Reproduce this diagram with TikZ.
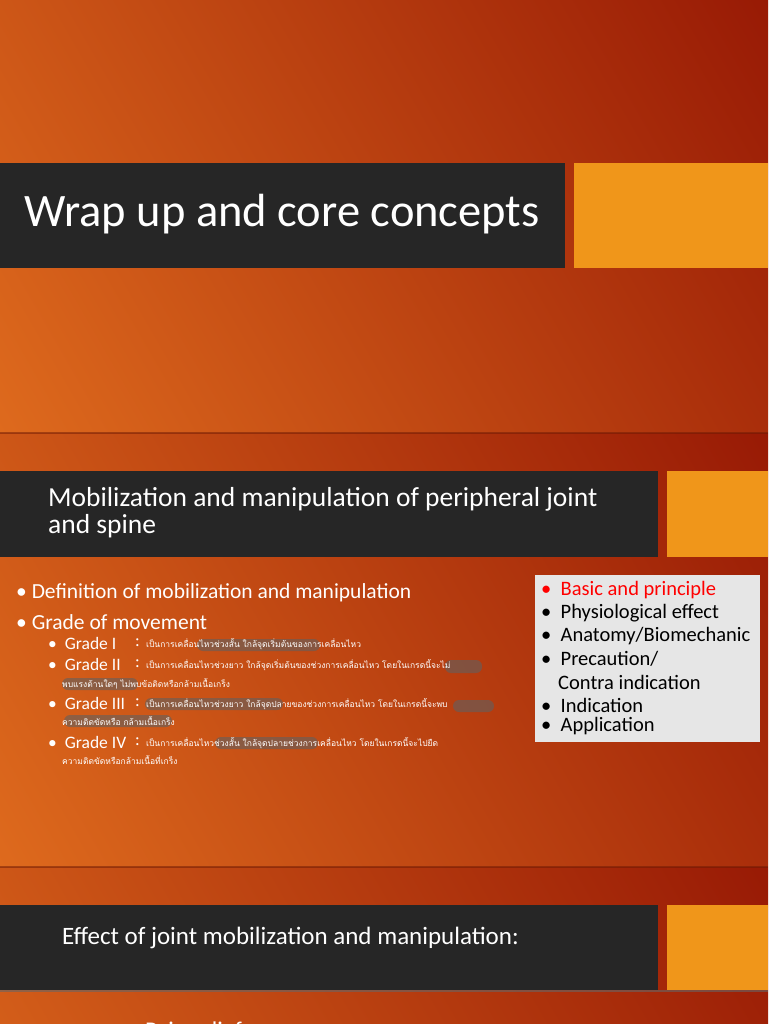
\documentclass[tikz,border=0pt]{standalone}
\usepackage{fontspec}
\setmainfont{Carlito}
\newfontfamily\thaifont[Script=Thai]{Loma}
\definecolor{oL}{HTML}{EC7A22}
\definecolor{oR}{HTML}{B42A06}
\definecolor{oD}{HTML}{8A0A00}
\definecolor{barc}{HTML}{262626}
\definecolor{acc}{HTML}{F0961A}
\definecolor{boxg}{HTML}{E6E6E6}
\begin{document}
\begin{tikzpicture}[x=1pt,y=-1pt,
  bar/.style={fill=barc},
  accent/.style={fill=acc},
  wtext/.style={text=white,anchor=west,inner sep=0pt},
  thai/.style={text=white,anchor=west,inner sep=0pt,font=\thaifont\fontsize{8.5}{10}\selectfont},
  hl/.style={fill=gray!75!black,opacity=.6,rounded corners=6pt}]
\useasboundingbox (0,0) rectangle (768,1024);
% backgrounds
\begin{scope}
\clip (0,0) rectangle (768,432);
\shade[left color=oL,right color=oD,shading angle=120] (-300,-300) rectangle (1068,732);
\end{scope}
\begin{scope}
\clip (0,433) rectangle (768,866);
\shade[left color=oL,right color=oD,shading angle=120] (-300,133) rectangle (1068,1166);
\end{scope}
\begin{scope}
\clip (0,867) rectangle (768,1024);
\shade[left color=oL,right color=oD,shading angle=120] (-300,567) rectangle (1068,1600);
\end{scope}
\fill[oR!60!black,opacity=.5] (0,432) rectangle (768,433.5);
\fill[oR!60!black,opacity=.5] (0,866) rectangle (768,867.5);
\fill[black!60,opacity=.6] (0,990) rectangle (768,992);
% slide 1
\fill[bar] (0,163) rectangle (565,268);
\fill[accent] (574,163) rectangle (768,268);
\node[wtext,font=\fontsize{46.5}{50}\selectfont] (t1) at (24,214) {Wrap up and core concepts};
% slide 2
\fill[bar] (0,471) rectangle (658,557);
\fill[accent] (667,471) rectangle (768,557);
\node[wtext,font=\fontsize{27.5}{30}\selectfont] (t2a) at (48,499) {Mobilization and manipulation of peripheral joint};
\node[wtext,font=\fontsize{27.5}{30}\selectfont] (t2b) at (48,526) {and spine};
\begin{scope}[font=\fontsize{21.5}{25}\selectfont]
\node[wtext] (b1) at (16,593) {\textbullet\ Definition of mobilization and manipulation};
\node[wtext] (b2) at (16,622) {\textbullet\ Grade of movement};
\end{scope}
% highlighter marks
\fill[hl] (197,639) rectangle (320,651);
\fill[hl] (445,660) rectangle (482,673);
\fill[hl] (62,678) rectangle (138,690);
\fill[hl] (145,698) rectangle (283,710);
\fill[hl] (453,700) rectangle (494,712);
\fill[hl] (64,715) rectangle (172,727);
\fill[hl] (215,737) rectangle (318,749);
\begin{scope}[font=\fontsize{17.5}{21}\selectfont]
\node[wtext] (g1) at (48,643) {\textbullet\ \ Grade I};
\node[wtext] (g2) at (48,664) {\textbullet\ \ Grade II};
\node[wtext] (g3) at (48,703) {\textbullet\ \ Grade III};
\node[wtext] (g4) at (48,742) {\textbullet\ \ Grade IV};
\node[wtext] (c1) at (135,643) {:};
\node[wtext] (c2) at (135,664) {:};
\node[wtext] (c3) at (135,703) {:};
\node[wtext] (c4) at (135,742) {:};
\end{scope}
\node[thai] (th1) at (146,644) {เป็นการเคลื่อนไหวช่วงสั้น ใกล้จุดเริ่มต้นของการเคลื่อนไหว};
\node[thai] (th2) at (146,665) {เป็นการเคลื่อนไหวช่วงยาว ใกล้จุดเริ่มต้นของช่วงการเคลื่อนไหว โดยในเกรดนี้จะไม่};
\node[thai] (th2b) at (62,684) {พบแรงต้านใดๆ ไม่พบข้อติดหรือกล้ามเนื้อเกร็ง};
\node[thai] (th3) at (146,704) {เป็นการเคลื่อนไหวช่วงยาว ใกล้จุดปลายของช่วงการเคลื่อนไหว โดยในเกรดนี้จะพบ};
\node[thai] (th3b) at (62,721) {ความติดขัดหรือ กล้ามเนื้อเกร็ง};
\node[thai] (th4) at (146,743) {เป็นการเคลื่อนไหวช่วงสั้น ใกล้จุดปลายช่วงการเคลื่อนไหว โดยในเกรดนี้จะไปยืด};
\node[thai] (th4b) at (62,760) {ความติดขัดหรือกล้ามเนื้อที่เกร็ง};
% gray box
\fill[boxg] (535,575) rectangle (760,742);
\begin{scope}[font=\fontsize{20.5}{24}\selectfont]
\node[wtext,text=red] (r1) at (541,590) {\textbullet\ \ Basic and principle};
\node[wtext,text=black] (r2) at (541,613) {\textbullet\ \ Physiological effect};
\node[wtext,text=black] (r3) at (541,636) {\textbullet\ \ Anatomy/Biomechanic};
\node[wtext,text=black] (r4) at (541,659) {\textbullet\ \ Precaution/};
\node[wtext,text=black] (r4b) at (558,682) {Contra indication};
\node[wtext,text=black] (r5) at (541,705) {\textbullet\ \ Indication};
\node[wtext,text=black] (r6) at (541,726) {\textbullet\ \ Application};
\end{scope}
% slide 3
\fill[bar] (0,905) rectangle (658,990);
\fill[accent] (667,905) rectangle (768,990);
\node[wtext,font=\fontsize{25}{28}\selectfont] (t3) at (62,938) {Effect of joint mobilization and manipulation:};
\begin{scope}
\clip (0,992) rectangle (768,1024);
\node[wtext,font=\fontsize{24}{28}\selectfont] (p1) at (122,1030) {\textbullet\ \ Pain relief};
\end{scope}
\end{tikzpicture}
\end{document}
